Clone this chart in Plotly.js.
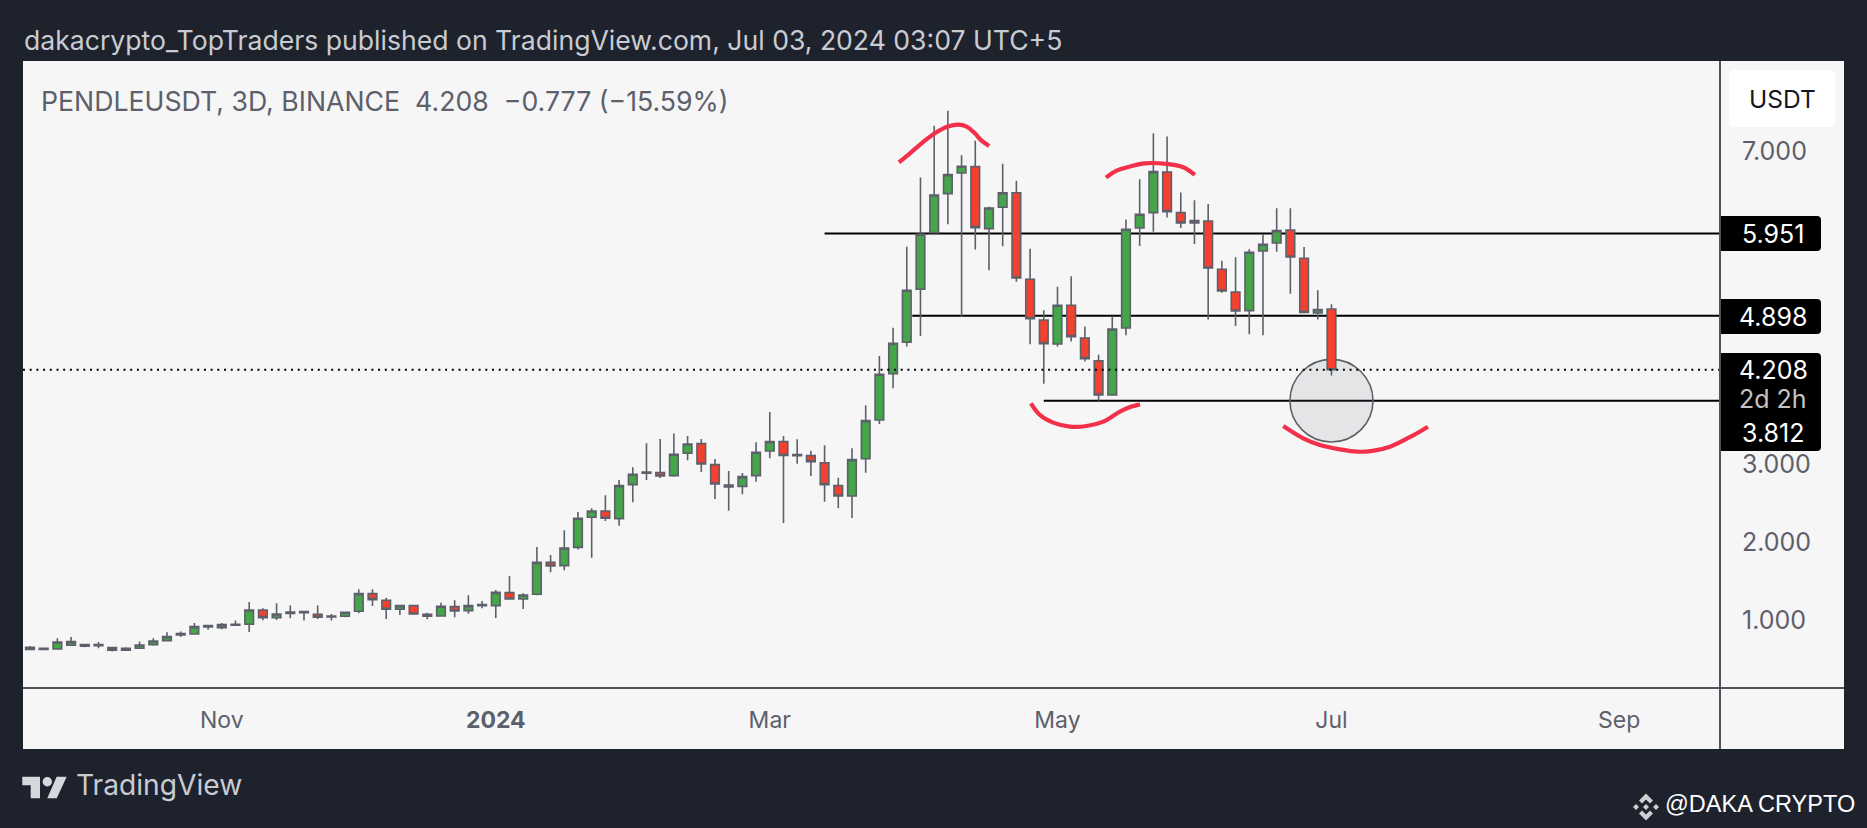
<!DOCTYPE html>
<html><head><meta charset="utf-8">
<script src="https://cdn.plot.ly/plotly-3.0.1.min.js"></script>
<style>html,body{margin:0;padding:0;background:#1e222d;overflow:hidden}</style>
</head><body><div id="chart" style="width:1867px;height:828px"></div>
<script>
const dates = ["2023-09-20","2023-09-23","2023-09-26","2023-09-29","2023-10-02","2023-10-05","2023-10-08","2023-10-11","2023-10-14","2023-10-17","2023-10-20","2023-10-23","2023-10-26","2023-10-29","2023-11-01","2023-11-04","2023-11-07","2023-11-10","2023-11-13","2023-11-16","2023-11-19","2023-11-22","2023-11-25","2023-11-28","2023-12-01","2023-12-04","2023-12-07","2023-12-10","2023-12-13","2023-12-16","2023-12-19","2023-12-22","2023-12-25","2023-12-28","2023-12-31","2024-01-03","2024-01-06","2024-01-09","2024-01-12","2024-01-15","2024-01-18","2024-01-21","2024-01-24","2024-01-27","2024-01-30","2024-02-02","2024-02-05","2024-02-08","2024-02-11","2024-02-14","2024-02-17","2024-02-20","2024-02-23","2024-02-26","2024-02-29","2024-03-03","2024-03-06","2024-03-09","2024-03-12","2024-03-15","2024-03-18","2024-03-21","2024-03-24","2024-03-27","2024-03-30","2024-04-02","2024-04-05","2024-04-08","2024-04-11","2024-04-14","2024-04-17","2024-04-20","2024-04-23","2024-04-26","2024-04-29","2024-05-02","2024-05-05","2024-05-08","2024-05-11","2024-05-14","2024-05-17","2024-05-20","2024-05-23","2024-05-26","2024-05-29","2024-06-01","2024-06-04","2024-06-07","2024-06-10","2024-06-13","2024-06-16","2024-06-19","2024-06-22","2024-06-25","2024-06-28","2024-07-01"];
const opens = [.628,.641,.633,.680,.688,.675,.650,.641,.641,.688,.739,.812,.825,.932,.906,.936,.949,1.132,1.034,1.089,1.111,1.077,1.055,1.051,1.115,1.341,1.256,1.141,1.188,1.077,1.055,1.175,1.124,1.188,1.188,1.354,1.273,1.333,1.742,1.700,1.934,2.319,2.400,2.302,2.737,2.882,2.890,2.852,3.138,3.262,2.993,2.732,2.715,2.852,3.168,3.287,3.121,3.108,3.018,2.724,2.591,3.069,3.565,4.158,4.559,5.238,5.963,6.463,6.727,6.808,6.015,6.288,6.475,5.366,4.845,4.538,5.033,4.615,4.324,3.885,4.743,6.023,6.220,6.740,6.220,6.117,6.113,5.494,5.204,4.965,5.729,5.831,5.998,5.635,4.935,4.985];
const highs = [.671,.645,.769,.786,.697,.722,.658,.654,.727,.769,.846,.855,.966,.936,.966,.996,1.235,1.153,1.217,1.188,1.119,1.188,1.081,1.111,1.397,1.397,1.290,1.196,1.196,1.098,1.226,1.256,1.320,1.247,1.388,1.567,1.345,1.939,1.836,2.152,2.387,2.434,2.600,2.797,2.958,3.266,3.321,3.390,3.360,3.321,3.065,2.912,2.886,3.279,3.667,3.360,3.317,3.172,3.240,2.826,3.202,3.752,4.384,4.747,5.784,6.668,7.333,7.525,6.953,7.141,6.296,6.847,6.629,5.758,4.969,5.272,5.404,4.760,4.401,4.896,6.130,6.646,7.235,7.193,6.476,6.377,6.331,5.605,5.648,5.750,5.946,6.275,6.275,5.780,5.225,5.046];
const lows = [.620,.620,.628,.671,.654,.641,.599,.611,.637,.675,.731,.786,.821,.880,.885,.932,.850,1.000,1.004,1.025,.996,1.017,.996,1.038,1.089,1.183,1.017,1.068,1.077,1.013,1.047,1.038,1.085,1.153,1.030,1.264,1.145,1.320,1.614,1.640,1.905,1.802,2.272,2.212,2.510,2.796,2.822,2.839,3.048,2.899,2.553,2.404,2.613,2.775,3.074,2.246,3.005,2.848,2.519,2.434,2.310,2.890,3.513,3.970,4.504,4.640,5.955,6.070,4.888,5.746,5.481,5.788,5.336,4.534,4.030,4.504,4.568,4.312,3.812,3.881,4.649,5.793,5.976,6.156,6.023,5.818,4.850,5.195,4.768,4.662,4.649,5.720,5.182,4.931,4.850,4.133];
const closes = [.654,.628,.722,.727,.667,.688,.616,.616,.684,.735,.791,.829,.919,.914,.944,.949,1.132,1.034,1.081,1.106,1.098,1.038,1.042,1.102,1.341,1.264,1.141,1.188,1.081,1.051,1.179,1.119,1.188,1.200,1.358,1.273,1.324,1.742,1.695,1.926,2.306,2.400,2.306,2.724,2.869,2.899,2.848,3.125,3.257,3.001,2.745,2.707,2.839,3.151,3.287,3.112,3.108,3.031,2.737,2.591,3.057,3.556,4.149,4.546,5.225,5.942,6.446,6.706,6.813,6.027,6.279,6.475,5.383,4.862,4.542,5.033,4.632,4.350,3.885,4.730,6.006,6.198,6.745,6.232,6.087,6.087,5.511,5.217,4.960,5.712,5.814,5.989,5.652,4.943,4.978,4.208];

const priceTicks = [1,2,3,7];
const timeTickDates = ["2023-11-01","2023-12-31","2024-02-29","2024-05-02","2024-07-01","2024-09-02"];
const timeTickLabels = ["Nov","<b>2024</b>","Mar","May","Jul","Sep"];

const lastPrice = 4.208;
const levelPrices = [5.951,4.898,3.812];
const levelStartBars = [58,64.4,74];
const levelLabels = ["5.951","4.898","3.812"];

const scribbleTopLeftBars = [63.43,64.23,65.08,66.05,67.0,67.76,68.37,68.97,69.46,70.02];
const scribbleTopLeftPrices = [6.864,6.979,7.107,7.235,7.321,7.346,7.321,7.235,7.141,7.073];
const scribbleTopRightBars = [78.54,79.32,80.29,81.38,82.97,84.18,85.03];
const scribbleTopRightPrices = [6.668,6.757,6.809,6.851,6.843,6.800,6.702];
const scribbleLowLeftBars = [73.06,73.72,74.69,75.91,77.13,78.34,79.56,80.41,81.02];
const scribbleLowLeftPrices = [3.778,3.629,3.531,3.480,3.488,3.544,3.672,3.736,3.765];
const scribbleLowRightBars = [91.48,92.94,94.16,95.62,96.85,98.0,99.27,101.0,102.04];
const scribbleLowRightPrices = [3.488,3.330,3.245,3.189,3.159,3.170,3.223,3.372,3.479];

const circleCenterBar = 95, circleBarRadius = 3.03, circleCenterPrice = 3.812, circlePriceRadius = 0.529;

const atBar = b => new Date(Date.UTC(2023,8,20) + b*3*864e5).toISOString();
const L = 23, R = 1720, T = 61, B = 688;
const px = x => (x-L)/(R-L);
const py = y => (B-y)/(B-T);
const pathOf = pts => 'M' + pts.map(p => px(p[0]).toFixed(5)+' '+py(p[1]).toFixed(5)).join(' L') + ' Z';
function roundBox(x0,y0,x1,y1,r){
  const a=px, b=py;
  return `M${a(x0)} ${b(y0)} L${a(x1-r)} ${b(y0)} Q${a(x1)} ${b(y0)} ${a(x1)} ${b(y0+r)} L${a(x1)} ${b(y1-r)} Q${a(x1)} ${b(y1)} ${a(x1-r)} ${b(y1)} L${a(x0)} ${b(y1)} Z`;
}
function roundAll(x0,y0,x1,y1,r){
  const a=px, b=py;
  return `M${a(x0+r)} ${b(y0)} L${a(x1-r)} ${b(y0)} Q${a(x1)} ${b(y0)} ${a(x1)} ${b(y0+r)} L${a(x1)} ${b(y1-r)} Q${a(x1)} ${b(y1)} ${a(x1-r)} ${b(y1)} L${a(x0+r)} ${b(y1)} Q${a(x0)} ${b(y1)} ${a(x0)} ${b(y1-r)} L${a(x0)} ${b(y0+r)} Q${a(x0)} ${b(y0)} ${a(x0+r)} ${b(y0)} Z`;
}
const rightEnd = atBar(123.36), leftEnd = atBar(-0.51);
const DARK='#1e222d', PANEL='#f6f6f6', AXIS='#50535e', GREY='#5d606b', SANS='Inter, "Open Sans", sans-serif';
const paperShape = (path,fill,layer='above') => ({type:'path',xref:'paper',yref:'paper',path,fillcolor:fill,line:{width:0},layer});
const shapes = [
  paperShape(pathOf([[23,61],[1844,61],[1844,749],[23,749]]),PANEL,'below'),
  ...levelPrices.map((p,i)=>({type:'line',xref:'x',yref:'y',layer:'below',x0:atBar(levelStartBars[i]),x1:rightEnd,y0:p,y1:p,line:{color:'#000000',width:2}})),
  {type:'circle',xref:'x',yref:'y',layer:'below',x0:atBar(circleCenterBar-circleBarRadius),x1:atBar(circleCenterBar+circleBarRadius),y0:circleCenterPrice-circlePriceRadius,y1:circleCenterPrice+circlePriceRadius,fillcolor:'rgba(120,125,135,0.14)',line:{color:'#5f6166',width:1.6}},
  {type:'line',xref:'x',yref:'y',layer:'above',x0:leftEnd,x1:rightEnd,y0:lastPrice,y1:lastPrice,line:{color:'#000000',width:2,dash:'2px,4.7px'}},
  paperShape(roundBox(1720,216,1821,251,4),'#000000'),
  paperShape(roundBox(1720,299,1821,334,4),'#000000'),
  paperShape(roundBox(1720,353,1821,451,4),'#000000'),
  paperShape(roundAll(1729,70,1835,127,5),'#ffffff'),
  {type:'line',xref:'paper',yref:'paper',x0:px(23),x1:px(1844),y0:py(688),y1:py(688),line:{color:AXIS,width:2},layer:'above'},
  {type:'line',xref:'paper',yref:'paper',x0:px(1720),x1:px(1720),y0:py(61),y1:py(749),line:{color:AXIS,width:2},layer:'above'},
  paperShape(pathOf([[22.3,776.7],[40,776.7],[40,798.3],[30.7,798.3],[30.7,785.3],[22.3,785.3]]),'#d6d8de'),
  paperShape(pathOf([[56.7,776.7],[66.7,776.7],[56.7,798.3],[47.3,798.3]]),'#d6d8de'),
  {type:'circle',xref:'paper',yref:'paper',x0:px(42.6),x1:px(52),y0:py(786.4),y1:py(777),fillcolor:'#d6d8de',line:{width:0},layer:'above'},
  paperShape(pathOf([[1646,793.5],[1653,800.5],[1650,803.5],[1646,799.5],[1642,803.5],[1639,800.5]]),'#cfcfcf'),
  paperShape(pathOf([[1646,820.5],[1653,813.5],[1650,810.5],[1646,814.5],[1642,810.5],[1639,813.5]]),'#cfcfcf'),
  paperShape(pathOf([[1646,804],[1649,807],[1646,810],[1643,807]]),'#cfcfcf'),
  paperShape(pathOf([[1636,804],[1639,807],[1636,810],[1633,807]]),'#cfcfcf'),
  paperShape(pathOf([[1656,804],[1659,807],[1656,810],[1653,807]]),'#cfcfcf'),
];
const note = (text,x,y,size,color,anchor='left',family=SANS) => ({text,x:px(x),y:py(y),xref:'paper',yref:'paper',xanchor:anchor,yanchor:'middle',showarrow:false,borderpad:0,font:{size,color,family}});
const annotations = [
  note('dakacrypto_TopTraders published on TradingView.com, Jul 03, 2024 03:07 UTC+5',23,40,26.6,'#c9ccd2'),
  note('PENDLEUSDT, 3D, BINANCE&nbsp;&nbsp;4.208&nbsp;&nbsp;\u22120.777 (\u221215.59%)',40,101,26.7,'#5d606b'),
  note('USDT',1782,99,24.5,'#131722','center'),
  note(levelLabels[0],1773,233.7,25,'#ffffff','center'),
  note(levelLabels[1],1773,316.7,25,'#ffffff','center'),
  note(lastPrice.toFixed(3),1773,370,25,'#ffffff','center'),
  note('2d 2h',1773,399,25,'#c4c4c4','center'),
  note(levelLabels[2],1773,432.7,25,'#ffffff','center'),
  note('TradingView',75,785,28.2,'#c9cbd2'),
  note('@DAKA CRYPTO',1664,804,23.5,'#ffffff','left','"Liberation Sans", Arial, sans-serif'),
];
const scribble = (x,y) => ({type:'scatter',mode:'lines',x:x.map(atBar),y,line:{color:'#f2304a',width:4.2,shape:'spline',smoothing:1},hoverinfo:'skip',showlegend:false,cliponaxis:false});
const traces = [
  {type:'candlestick',x:dates,open:opens,high:highs,low:lows,close:closes,
   increasing:{line:{color:GREY,width:1.6},fillcolor:'#45a549'},
   decreasing:{line:{color:GREY,width:1.6},fillcolor:'#f4402f'},
   whiskerwidth:0,showlegend:false,hoverinfo:'skip'},
  scribble(scribbleTopLeftBars,scribbleTopLeftPrices),
  scribble(scribbleTopRightBars,scribbleTopRightPrices),
  scribble(scribbleLowLeftBars,scribbleLowLeftPrices),
  scribble(scribbleLowRightBars,scribbleLowRightPrices),
];
const layout = {
  width:1867,height:828,autosize:false,
  paper_bgcolor:DARK,plot_bgcolor:PANEL,
  margin:{l:L,r:1867-R,t:T,b:828-B,pad:0},
  showlegend:false,boxgap:0.37,boxgroupgap:0,
  xaxis:{type:'date',range:[leftEnd,rightEnd],rangeslider:{visible:false},showgrid:false,zeroline:false,showline:false,
    tickmode:'array',tickvals:timeTickDates,ticktext:timeTickLabels,ticks:'outside',ticklen:11,tickcolor:'rgba(0,0,0,0)',
    tickfont:{family:SANS,size:23,color:GREY},fixedrange:true},
  yaxis:{side:'right',range:[0.133,8.161],showgrid:false,zeroline:false,showline:false,
    tickmode:'array',tickvals:priceTicks,ticktext:priceTicks.map(v=>v.toFixed(3)),ticks:'outside',ticklen:16,tickcolor:'rgba(0,0,0,0)',
    tickfont:{family:SANS,size:25,color:GREY},fixedrange:true},
  shapes,annotations
};
Plotly.newPlot('chart',traces,layout,{displayModeBar:false,staticPlot:true});
</script></body></html>
